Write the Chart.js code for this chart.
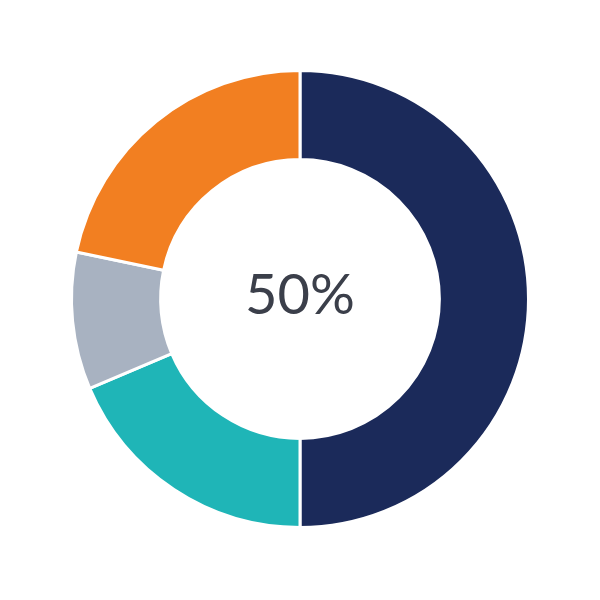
<!DOCTYPE html>
<html>
<head>
<meta charset="utf-8">
<script src="https://cdn.jsdelivr.net/npm/chart.js@4/dist/chart.umd.min.js"></script>
<style>
  html, body { margin: 0; padding: 0; background: #fff; }
  #wrap { position: relative; width: 600px; height: 600px; }
  #center {
    position: absolute; left: 0; top: -8px; width: 600px; height: 600px;
    display: flex; align-items: center; justify-content: center;
    font-family: Lato, "Open Sans", sans-serif; font-size: 56px;
    color: #3b3f4a; pointer-events: none;
  }
</style>
</head>
<body>
<div id="wrap">
  <canvas id="myChart" width="600" height="600"></canvas>
  <div id="center">50%</div>
</div>
<script>
var labels = ['A', 'B', 'C', 'D'];
var values = [50, 18.6, 9.7, 21.7];
var colors = ['#1b2a5a', '#1fb5b7', '#a8b2c1', '#f27f21'];

var ctx = document.getElementById("myChart");
var myChart = new Chart(ctx, {
    type: 'doughnut',
    data: {
        labels: labels,
        datasets: [{
            data: values,
            backgroundColor: colors,
            borderColor: '#ffffff',
            borderWidth: 3
        }]
    },
    options: {
        responsive: false,
        animation: false,
        cutout: '61%',
        layout: { padding: { top: 69, bottom: 71, left: 70, right: 70 } },
        plugins: {
            legend: { display: false },
            tooltip: { enabled: false }
        }
    }
});
</script>
</body>
</html>
